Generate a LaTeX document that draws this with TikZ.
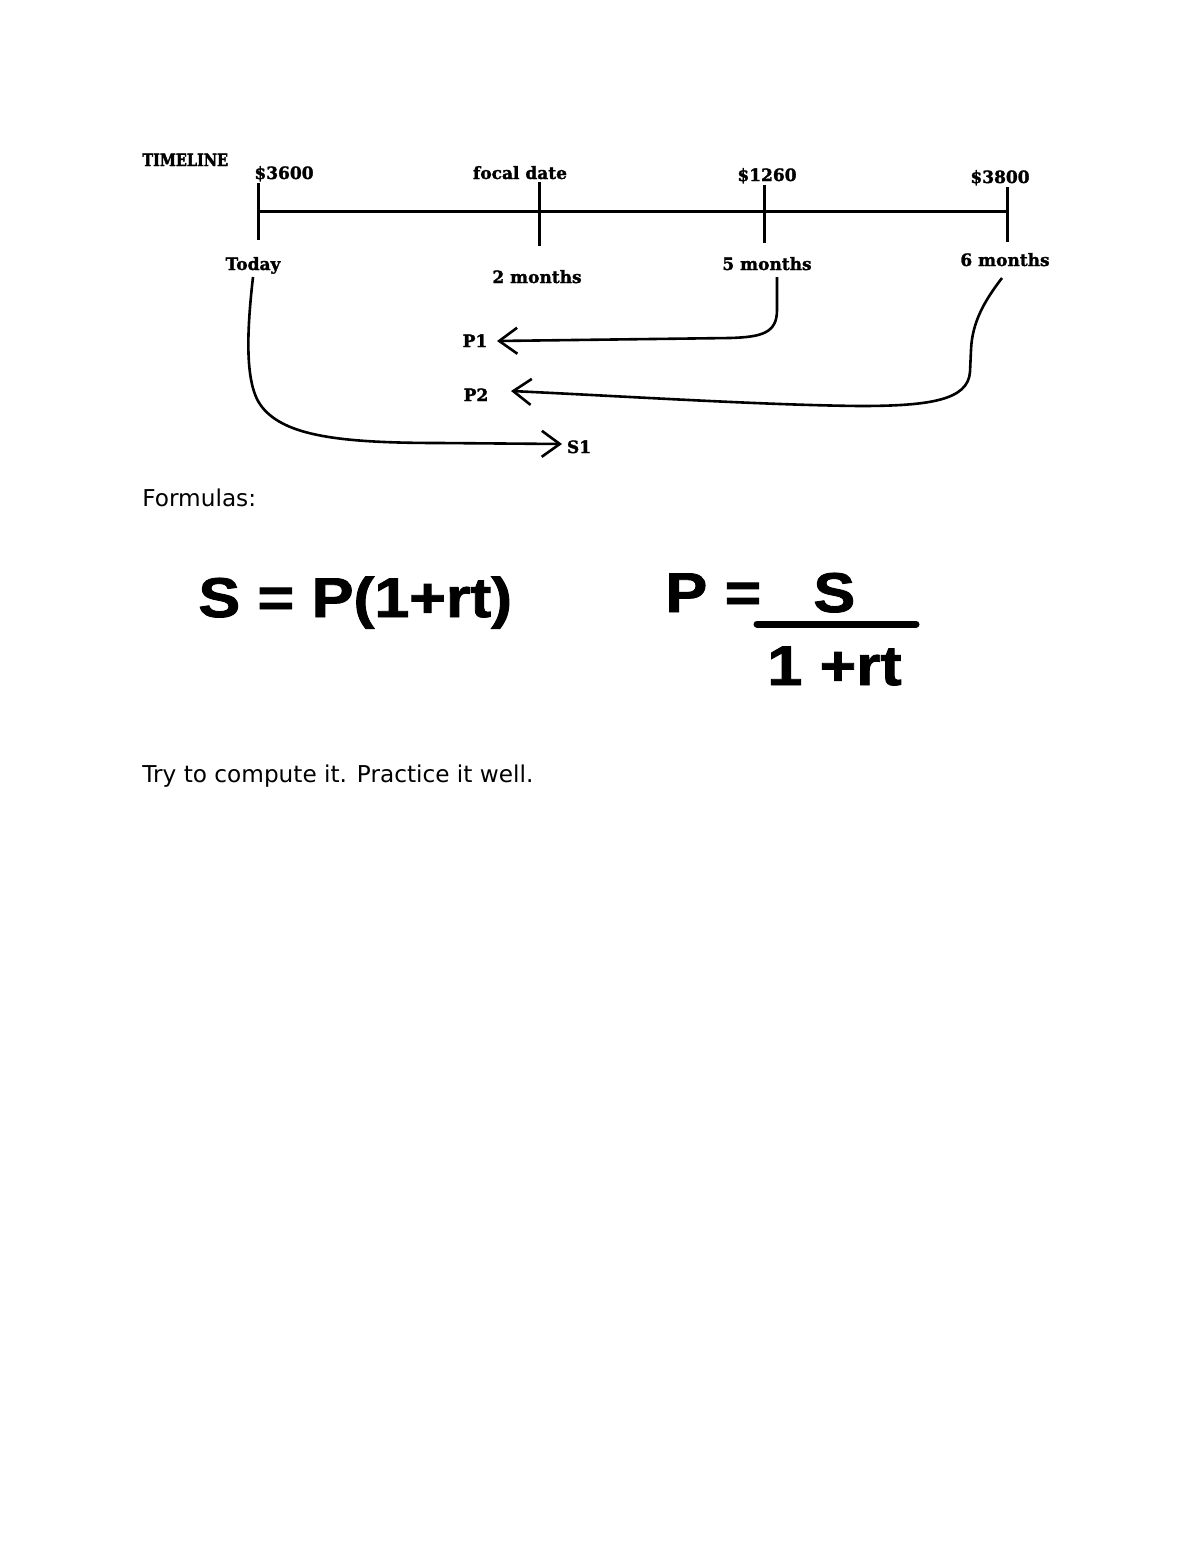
\documentclass[tikz,border=0pt]{standalone}
\usepackage{fontspec}
\setmainfont{DejaVu Sans}
\newfontfamily\lblfont[BoldFeatures={FakeBold=1.6}]{DejaVu Serif}
\newfontfamily\ttlfont[BoldFeatures={FakeBold=2,FakeStretch=0.85}]{DejaVu Serif}
\newfontfamily\frmfont[BoldFeatures={FakeBold=1.5}]{Liberation Sans}
\usetikzlibrary{arrows.meta}
\newcommand{\frmbox}[1]{\scalebox{1.12}[1]{#1}}
\begin{document}
\begin{tikzpicture}[x=0.5pt,y=-0.5pt,
  lbl/.style={font=\lblfont\bfseries\fontsize{8.5}{10}\selectfont, inner sep=0pt, anchor=base},
  ttl/.style={font=\ttlfont\bfseries\fontsize{8.5}{10}\selectfont, inner sep=0pt, anchor=base west},
  axis/.style={line width=1.5pt},
  link/.style={line width=1.3pt, -{Straight Barb[length=9pt,width=13pt,line width=1.3pt]}},
  body/.style={font=\fontsize{11.6}{14}\selectfont, inner sep=0pt, anchor=base west},
  frm/.style={font=\frmfont\bfseries\fontsize{28}{32}\selectfont, inner sep=0pt, anchor=base west}]
\useasboundingbox[fill=white] (0,0) rectangle (1200,1553);

% labels
\node[ttl] (title) at (142,166) {TIMELINE};
\node[lbl] (a0) at (284,179) {\$3600};
\node[lbl] (fd) at (520,179) {focal date};
\node[lbl] (a5) at (767,181) {\$1260};
\node[lbl] (a6) at (1000,183) {\$3800};
\node[lbl] (today) at (253,270) {Today};
\node[lbl] (m2) at (537,283) {2 months};
\node[lbl] (m5) at (767,270) {5 months};
\node[lbl] (m6) at (1005,266) {6 months};
\node[lbl] (p1) at (475,347) {P1};
\node[lbl] (p2) at (476,401) {P2};
\node[lbl] (s1) at (579,453) {S1};

% timeline
\coordinate (t0) at (258,211);
\coordinate (t3) at (1007,211);
\draw[axis] (t0) -- (t3);
\coordinate (k0a) at (258,183); \coordinate (k0b) at (258,240);
\coordinate (k1a) at (539,182); \coordinate (k1b) at (539,246);
\coordinate (k2a) at (764,185); \coordinate (k2b) at (764,243);
\coordinate (k3a) at (1007,187); \coordinate (k3b) at (1007,242);
\draw[axis] (k0a) -- (k0b);
\draw[axis] (k1a) -- (k1b);
\draw[axis] (k2a) -- (k2b);
\draw[axis] (k3a) -- (k3b);

% connectors
\coordinate (c0) at (253,277);
\coordinate (s1tip) at (562,444);
\draw[link] (c0) .. controls (247,330) and (244,385) .. (262,407) .. controls (285,436) and (340,443) .. (440,443) -- (s1tip);

\coordinate (c5) at (777,277);
\coordinate (p1tip) at (497,341);
\draw[link] (c5) -- (777,310) .. controls (777,333) and (762,337) .. (730,338) -- (p1tip);

\coordinate (c6) at (1002,278);
\coordinate (p2tip) at (511,391);
\draw[link] (c6) .. controls (985,300) and (972,322) .. (971,350) -- (970,372) .. controls (968,400) and (930,406) .. (860,406) .. controls (760,405) and (620,396) .. (p2tip);

% formulas
\node[body] (fl) at (142,506) {Formulas:};
\node[frm] (f1) at (198,617) {\frmbox{S = P(1+rt)}};
\node[frm] (f2p) at (665,612) {\frmbox{P =}};
\node[frm] (f2s) at (813,612) {\frmbox{S}};
\coordinate (barL) at (757,624);
\coordinate (barR) at (916,624);
\draw[line width=3.5pt, line cap=round] (barL) -- (barR);
\node[frm] (f2d) at (767,685) {\frmbox{1 +rt}};
\node[body] (try) at (142,782) {Try to compute it. Practice it well.};
\end{tikzpicture}
\end{document}
